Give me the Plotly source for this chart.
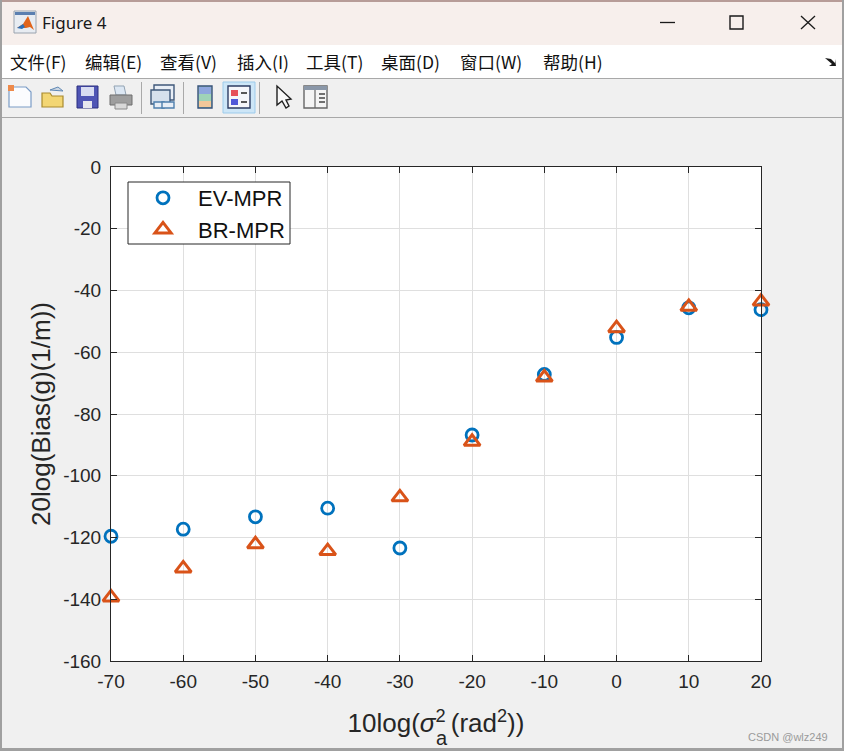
import plotly.graph_objects as go

x_values = [-70, -60, -50, -40, -30, -20, -10, 0, 10, 20]
ev_mpr = [-119.6, -117.3, -113.3, -110.5, -123.4, -86.8, -67.2, -55.2, -45.6, -46.2]
br_mpr = [-139.4, -130.0, -122.2, -124.4, -107.0, -89.0, -68.2, -52.2, -45.3, -43.6]
x_ticks = [-70, -60, -50, -40, -30, -20, -10, 0, 10, 20]
y_ticks = [0, -20, -40, -60, -80, -100, -120, -140, -160]
menu_labels = ["文件(F)", "编辑(E)", "查看(V)", "插入(I)", "工具(T)", "桌面(D)", "窗口(W)", "帮助(H)"]
menu_lefts = [10, 85, 160, 237, 306, 381, 460, 543]

W, H = 844, 751
L, R, T, B = 111, 761, 167, 661
BLUE, ORANGE = "#0072BD", "#D95319"
INK = "#262626"
FONT = "Liberation Sans"


def px(v):
    return (v - L) / (R - L)


def py(v):
    return (B - v) / (B - T)


def rect(x0, y0, x1, y1, fill, line=None, width=1, layer="below"):
    return dict(type="rect", xref="paper", yref="paper", x0=px(x0), x1=px(x1), y0=py(y0), y1=py(y1),
                fillcolor=fill, line=dict(color=line or fill, width=width if line else 0), layer=layer)


def seg(x0, y0, x1, y1, color="#1A1A1A", width=1.3):
    return dict(type="line", xref="paper", yref="paper", x0=px(x0), x1=px(x1), y0=py(y0), y1=py(y1),
                line=dict(color=color, width=width), layer="below")


def poly(points, fill, line=None, width=1):
    d = "M" + " L".join(f"{px(a):.5f},{py(b):.5f}" for a, b in points) + " Z"
    return dict(type="path", xref="paper", yref="paper", path=d, fillcolor=fill,
                line=dict(color=line or fill, width=width if line else 0), layer="below")


def label(x, y, text, size, color="#111111", family="Noto Sans CJK SC", anchor="left"):
    return dict(xref="paper", yref="paper", x=px(x), y=py(y), text=text, showarrow=False, xanchor=anchor,
                yanchor="middle", font=dict(size=size, color=color, family=family))


shapes = [
    rect(0, 0, W, 3, "#B79C98"),
    rect(0, 2, W, 45, "#F7EFEC"),
    rect(0, 45, W, 78, "#FFFFFF"),
    rect(0, 78, W, 117, "#F0F0F0"),
    seg(0, 78.5, W, 78.5, "#A8A8A8", 1),
    seg(0, 117.5, W, 117.5, "#A8A8A8", 1),
    rect(0, 0, 2, H, "#A0A0A0"),
    rect(W - 2, 0, W, H, "#A0A0A0"),
    rect(0, H - 3, W, H, "#A0A0A0"),
    # MATLAB logo
    rect(14, 11, 36, 33, "#E8ECF2", "#9AA3AE"),
    rect(15, 12, 35, 15, "#5B7FB0"),
    poly([(17, 28), (23, 24), (28, 16), (34, 30), (30, 27), (26, 28)], "#E0641C"),
    poly([(17, 28), (23, 24), (25, 27), (22, 29)], "#2C6FB7"),
    # window buttons
    seg(660, 22.5, 675, 22.5),
    dict(type="rect", xref="paper", yref="paper", x0=px(730), x1=px(743), y0=py(16), y1=py(29),
         line=dict(color="#1A1A1A", width=1.4), layer="below"),
    seg(801, 16, 815, 29),
    seg(815, 16, 801, 29),
    # overflow arrow on the menu bar
    poly([(825, 58), (831, 59), (835, 63), (835, 59), (836, 66), (829, 66), (832, 64)], "#1A1A1A"),
    # toolbar: new file
    poly([(9, 87), (26, 87), (31, 92), (31, 107), (9, 107)], "#FBFCFE", "#7A9CC6", 1.2),
    rect(8, 85, 14, 91, "#EE8A4A"),
    # toolbar: open
    poly([(42, 93), (50, 93), (52, 96), (63, 96), (63, 107), (42, 107)], "#F3D673", "#A98A2E", 1.2),
    poly([(50, 90), (58, 87), (63, 91)], "#CBD6E2", "#5F88B5", 1),
    # toolbar: save
    rect(77, 86, 98, 108, "#4F55B5", "#2B2F7E", 1),
    rect(81, 87, 94, 96, "#D8DCF2"),
    rect(83, 101, 92, 108, "#E6E6EE"),
    # toolbar: print
    poly([(114, 86), (124, 86), (126, 95), (116, 95)], "#DCE7F3", "#93A3B3", 1),
    rect(110, 95, 132, 105, "#9E9E9E", "#6E6E6E", 1),
    rect(115, 103, 127, 109, "#D9D9D9", "#8A8A8A", 1),
    seg(141.5, 82, 141.5, 114, "#A9A9A9", 1),
    # toolbar: link plot
    rect(154, 85, 174, 100, "#E8EEF6", "#3F587A", 1.4),
    rect(151, 90, 170, 104, "#D6E0EC", "#3F587A", 1.4),
    rect(154, 102, 164, 108, "#E8EEF6", "#4E7FAD", 1.4),
    rect(162, 102, 174, 108, "#E8EEF6", "#4E7FAD", 1.4),
    seg(183.5, 82, 183.5, 114, "#A9A9A9", 1),
    # toolbar: colorbar
    rect(198, 86, 212, 108, "#9FD3B8", "#36507A", 1.4),
    rect(199, 87, 211, 94, "#8EA6DE"),
    rect(199, 101, 211, 107, "#F2C79A"),
    # toolbar: legend toggle (active)
    rect(223, 82, 255, 113, "#CDE6F7", "#9CCBEB", 1),
    rect(228, 86, 250, 108, "#F5F6FA", "#2D3C63", 1.4),
    rect(231, 90, 238, 96, "#E5505A"),
    rect(231, 99, 238, 105, "#5058D8"),
    seg(241, 93, 247, 93, "#222222", 1.5),
    seg(241, 102, 247, 102, "#222222", 1.5),
    seg(259.5, 82, 259.5, 114, "#A9A9A9", 1),
    # toolbar: pointer
    poly([(277, 86), (277, 105), (282, 101), (286, 108), (289, 106), (286, 100), (291, 99)], "#F8F8F8", "#1F1F1F", 1.4),
    # toolbar: property editor
    rect(304, 86, 327, 108, "#F4F4F4", "#666666", 1.4),
    rect(304, 86, 327, 90, "#8A97A8"),
    seg(315, 90, 315, 108, "#666666", 1.2),
    seg(319, 94, 325, 94, "#444444", 1.5),
    seg(319, 98, 325, 98, "#444444", 1.5),
    seg(319, 102, 325, 102, "#444444", 1.5),
    # legend box
    rect(128, 182, 290, 244, "#FFFFFF", INK, 1, layer="above"),
]

annotations = [label(40, 23, "Figure 4", 17, "#1A1A1A", "Noto Sans")]
annotations += [label(a - 2, 61, t, 17.5) for a, t in zip(menu_lefts, menu_labels)]
annotations += [
    label(830, 737, "CSDN @wlz249", 11, "#9A9A9A", FONT, "right"),
    label(434, 738, "a", 20, INK, FONT),
]

fig = go.Figure()
fig.add_trace(go.Scatter(x=x_values, y=ev_mpr, mode="markers", name="EV-MPR", cliponaxis=False,
                         marker=dict(symbol="circle-open", size=12, color=BLUE, line=dict(width=2.8, color=BLUE))))
fig.add_trace(go.Scatter(x=x_values, y=br_mpr, mode="markers", name="BR-MPR", cliponaxis=False,
                         marker=dict(symbol="triangle-up-open", size=14, color=ORANGE, line=dict(width=3, color=ORANGE))))

axis = dict(showgrid=True, gridcolor="#DFDFDF", gridwidth=1, zeroline=False, showline=True, linecolor=INK,
            linewidth=1, mirror="ticks", ticks="inside", ticklen=6, tickwidth=1, tickcolor=INK,
            tickfont=dict(size=19, color=INK, family=FONT))

fig.update_layout(
    width=W, height=H, autosize=False,
    margin=dict(l=L, r=W - R, t=T, b=H - B, pad=0),
    paper_bgcolor="#F0F0F0", plot_bgcolor="#FFFFFF",
    font=dict(family=FONT, color=INK),
    xaxis=dict(axis, range=[-70, 20], tickvals=x_ticks, ticktext=[str(v) for v in x_ticks], ticklabelstandoff=3,
               title=dict(text="10log(<i>σ</i><sup>2 </sup>(rad<sup>2</sup>))",
                          font=dict(size=26, color=INK, family=FONT), standoff=23)),
    yaxis=dict(axis, range=[-160, 0], tickvals=y_ticks, ticktext=[str(v) for v in y_ticks], ticklabelstandoff=5,
               title=dict(text="20log(Bias(g)(1/m))", font=dict(size=26, color=INK, family=FONT), standoff=5)),
    legend=dict(x=px(128), y=py(177), xanchor="left", yanchor="top", bgcolor="rgba(0,0,0,0)", borderwidth=0,
                font=dict(size=22, color="#111111", family=FONT), itemwidth=60, tracegroupgap=0),
    shapes=shapes,
    annotations=annotations,
)

fig.write_html("out.html", config=dict(displayModeBar=False),
               post_script="document.body.style.margin='0';document.body.style.overflow='hidden';")
